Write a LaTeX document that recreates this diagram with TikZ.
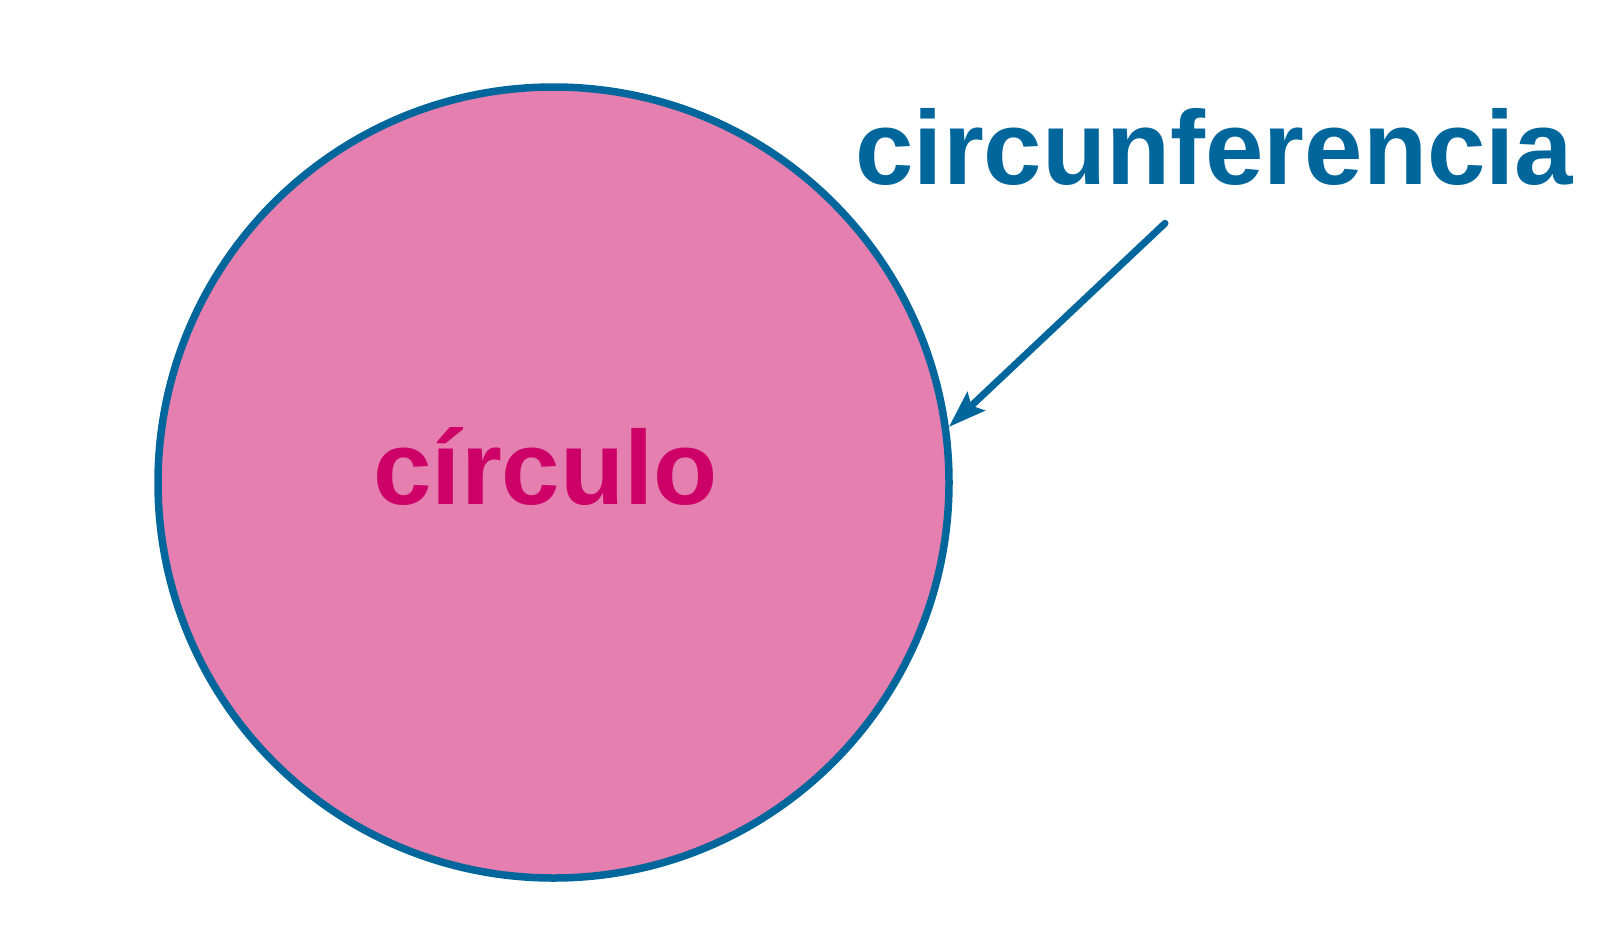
\documentclass[tikz,border=0pt]{standalone}
\usepackage{fontspec}
\setmainfont{Liberation Sans}
\usetikzlibrary{arrows.meta}
\definecolor{cblue}{HTML}{00669C}
\definecolor{cpink}{HTML}{E47FAF}
\definecolor{cmag}{HTML}{CC0066}
\tikzset{
  lbl/.style={font=\fontsize{105pt}{115pt}\selectfont\bfseries, inner sep=0pt, anchor=base west},
  ptr/.style={draw=cblue, line width=7pt, line cap=round, -{Stealth[length=37pt,width=25pt,inset=6pt]}}
}
\begin{document}
\begin{tikzpicture}[x=1pt,y=-1pt]
\useasboundingbox (0,0) rectangle (1600,946);
\node[circle, draw=cblue, fill=cpink, line width=7.5pt, minimum size=791pt, inner sep=0pt, outer sep=3.75pt] (circ) at (553.5,482.5) {};
\node[lbl, text=cmag] (circulo) at (373.3,504) {círculo};
\node[lbl, text=cblue] (circunf) at (855.3,184.5) {circunferencia};
\coordinate (tail) at (1165,223.3);
\draw[ptr] (tail) -- (circ.8.6);
\end{tikzpicture}
\end{document}
